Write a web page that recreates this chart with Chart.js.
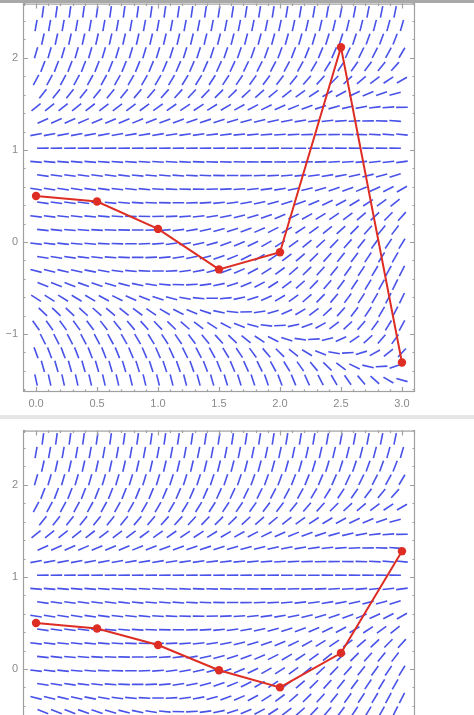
<!DOCTYPE html>
<html>
<head>
<meta charset="utf-8">
<script src="https://cdn.jsdelivr.net/npm/chart.js@4.4.0/dist/chart.umd.min.js"></script>
<style>
  html, body { margin: 0; padding: 0; background: #fff; overflow: hidden; }
  body { width: 474px; height: 715px; position: relative; }
  canvas { position: absolute; left: 0; }
  #topChart { top: -8px; }
  #bottomChart { top: 419px; }
  .rule { position: absolute; left: 0; width: 474px; }
</style>
</head>
<body>
<canvas id="topChart" width="474" height="423"></canvas>
<canvas id="bottomChart" width="474" height="423"></canvas>
<div class="rule" style="top:0;height:3px;background:#a8a8a8"></div>
<div class="rule" style="top:415px;height:4px;background:#e6e6e6"></div>
<script>
// euler steps
const stepX = [0, 0.5, 1, 1.5, 2, 2.5, 3];
const eulerTop = [0.5, 0.44, 0.142, -0.298, -0.112, 2.115, -1.31];
const eulerBottom = [0.5, 0.44, 0.26, -0.014, -0.2, 0.173, 1.28];

// axis ticks
const xTicks = [0, 0.5, 1, 1.5, 2, 2.5, 3];
const yTicks = [-1, 0, 1, 2];

// slope field sample grid (staggered rows)
const fieldRowsY = [2.5, 2.352, 2.204, 2.056, 1.907, 1.759, 1.611, 1.463, 1.315, 1.167,
  1.019, 0.87, 0.722, 0.574, 0.426, 0.278, 0.13, -0.019, -0.167, -0.315,
  -0.463, -0.611, -0.759, -0.907, -1.056, -1.204, -1.352, -1.5];
const fieldColsEven = [0.056, 0.167, 0.278, 0.389, 0.5, 0.611, 0.722, 0.833, 0.944,
  1.056, 1.167, 1.278, 1.389, 1.5, 1.611, 1.722, 1.833, 1.944, 2.056, 2.167,
  2.278, 2.389, 2.5, 2.611, 2.722, 2.833, 2.944];
const fieldColsOdd = [0, 0.111, 0.222, 0.333, 0.444, 0.556, 0.667, 0.778, 0.889, 1,
  1.111, 1.222, 1.333, 1.444, 1.556, 1.667, 1.778, 1.889, 2, 2.111, 2.222,
  2.333, 2.444, 2.556, 2.667, 2.778, 2.889, 3];

// the ode y' = f(x, y) behind the direction field
function slope(x, y) {
  return (y - 1) * (y * y - x * x / 4 + 0.15);
}

const fieldPoints = [];
fieldRowsY.forEach((y, i) => {
  const cols = i % 2 === 0 ? fieldColsEven : fieldColsOdd;
  cols.forEach(x => fieldPoints.push({ x, y }));
});

const labelFont = { family: "'Liberation Sans', Arial, sans-serif", size: 11 };
const labelColor = '#8a8a8a';

const framePlugin = {
  id: 'frame',
  afterDraw(chart) {
    const { ctx, chartArea: a } = chart;
    const xs = chart.scales.x, ys = chart.scales.y;
    ctx.save();
    ctx.strokeStyle = '#a0a0a0';
    ctx.lineWidth = 1.2;
    ctx.strokeRect(a.left + 0.5, a.top + 0.5, a.right - a.left - 1, a.bottom - a.top - 1);
    ctx.beginPath();
    for (let k = -1; k <= 31; k++) {
      const v = k / 10;
      const px = Math.round(xs.getPixelForValue(v)) + 0.5;
      const len = k % 5 === 0 ? 5 : 2.5;
      ctx.moveTo(px, a.bottom); ctx.lineTo(px, a.bottom - len);
      ctx.moveTo(px, a.top); ctx.lineTo(px, a.top + len);
    }
    for (let k = -8; k <= 13; k++) {
      const v = k / 5;
      const py = Math.round(ys.getPixelForValue(v)) + 0.5;
      const len = k % 5 === 0 ? 5 : 2.5;
      ctx.moveTo(a.left, py); ctx.lineTo(a.left + len, py);
      ctx.moveTo(a.right, py); ctx.lineTo(a.right - len, py);
    }
    ctx.stroke();
    ctx.restore();
  }
};

function segmentAngle(ctx) {
  if (!ctx.raw) return 0;
  const xs = ctx.chart.scales.x, ys = ctx.chart.scales.y;
  const pxPerX = Math.abs(xs.getPixelForValue(1) - xs.getPixelForValue(0));
  const pxPerY = Math.abs(ys.getPixelForValue(0) - ys.getPixelForValue(1));
  const s = slope(ctx.raw.x, ctx.raw.y) * pxPerY / pxPerX;
  return -Math.atan(s) * 180 / Math.PI;
}

function makeChart(id, ys) {
  new Chart(document.getElementById(id), {
    type: 'scatter',
    data: {
      datasets: [
        {
          data: stepX.map((x, i) => ({ x, y: ys[i] })),
          showLine: true,
          borderColor: 'rgb(222, 46, 36)',
          backgroundColor: 'rgb(222, 46, 36)',
          borderWidth: 2,
          pointRadius: 4.2,
          pointBorderWidth: 0,
          pointBackgroundColor: 'rgb(222, 46, 36)'
        },
        {
          data: fieldPoints,
          pointStyle: 'line',
          pointRadius: 5.8,
          pointBorderWidth: 1.6,
          pointBorderColor: 'rgb(72, 82, 232)',
          rotation: segmentAngle
        }
      ]
    },
    options: {
      responsive: false,
      animation: false,
      events: [],
      layout: { padding: { left: 0, right: 59, top: 8, bottom: 0 } },
      plugins: { legend: { display: false }, tooltip: { enabled: false } },
      scales: {
        x: {
          type: 'linear',
          min: -0.107,
          max: 3.107,
          afterBuildTicks: s => { s.ticks = xTicks.map(v => ({ value: v })); },
          afterFit: s => { s.height = 23; },
          grid: { display: false, drawTicks: false },
          border: { display: false },
          ticks: {
            autoSkip: false, maxRotation: 0, padding: 5,
            color: labelColor, font: labelFont,
            callback: v => v.toFixed(1)
          }
        },
        y: {
          type: 'linear',
          min: -1.63,
          max: 2.59,
          afterBuildTicks: s => { s.ticks = yTicks.map(v => ({ value: v })); },
          afterFit: s => { s.width = 23; },
          grid: { display: false, drawTicks: false },
          border: { display: false },
          ticks: {
            autoSkip: false, padding: 5,
            color: labelColor, font: labelFont,
            callback: v => (v < 0 ? '\u2212' + Math.abs(v) : String(v))
          }
        }
      }
    },
    plugins: [framePlugin]
  });
}

makeChart('topChart', eulerTop);
makeChart('bottomChart', eulerBottom);
</script>
</body>
</html>
